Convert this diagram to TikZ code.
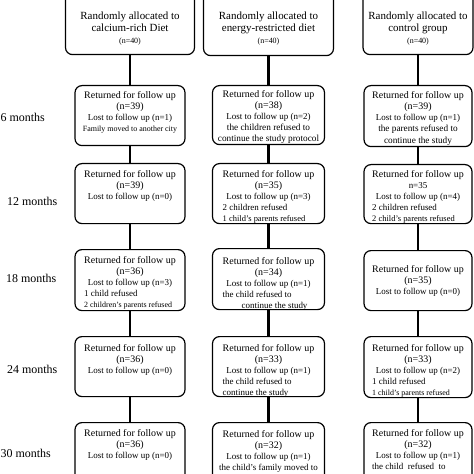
\documentclass[tikz,border=0pt]{standalone}
\usepackage{fontspec}
\setmainfont{Liberation Serif}
\newcommand\fs[2]{{\fontsize{#1}{11.2}\selectfont #2}}
\newcommand\lf[1]{\multicolumn{1}{@{}l@{}}{#1}}
\newcommand\RF{\fs{10}{Returned for follow up}}
\begin{document}
\begin{tikzpicture}[x=1bp,y=-1bp,
  box/.style={draw, rounded corners=7bp, line width=1.2bp, inner sep=0pt, anchor=north},
  txt/.style={inner sep=0pt, anchor=north, font=\fontsize{9}{11.2}\selectfont},
  toptxt/.style={inner sep=0pt, anchor=north, font=\fontsize{11}{12}\selectfont},
  lab/.style={inner sep=0pt, anchor=west, font=\fontsize{12}{12}\selectfont},
  link/.style={line width=2.6bp}]
\useasboundingbox (0,0) rectangle (474,474);
% top boxes
\node[box, minimum width=129bp, minimum height=64bp] (a1) at (130,-10) {};
\node[box, minimum width=130bp, minimum height=65bp] (a2) at (268.5,-10) {};
\node[box, minimum width=110bp, minimum height=64bp] (a3) at (418,-10) {};
\node[toptxt] (ta1) at (130,11) {\begin{tabular}{@{}c@{}}Randomly allocated to\\ calcium-rich Diet\\ \fs{8}{(n=40)}\end{tabular}};
\node[toptxt] (ta2) at (268.5,11) {\begin{tabular}{@{}c@{}}Randomly allocated to\\ energy-restricted diet\\ \fs{8}{(n=40)}\end{tabular}};
\node[toptxt] (ta3) at (418,11) {\begin{tabular}{@{}c@{}}Randomly allocated to\\ control group\\ \fs{8}{(n=40)}\end{tabular}};
% row 1
\node[box, minimum width=110bp, minimum height=60bp] (b11) at (130,85) {};
\node[box, minimum width=112bp, minimum height=59bp] (b12) at (268.5,85) {};
\node[box, minimum width=108bp, minimum height=61bp] (b13) at (418,85) {};
\node[txt] (t11) at (130,90) {\begin{tabular}{@{}c@{}}\RF\\ \fs{10}{(n=39)}\\ Lost to follow up (n=1)\\ \fs{8}{Family moved to another city}\end{tabular}};
\node[txt] (t12) at (268.5,89) {\begin{tabular}{@{}c@{}}\RF\\ \fs{10}{(n=38)}\\ Lost to follow up (n=2)\\ \fs{9.3}{the children refused to}\\ \fs{9.3}{continue the study protocol}\end{tabular}};
\node[txt] (t13) at (418,90.5) {\begin{tabular}{@{}c@{}}\RF\\ \fs{10}{(n=39)}\\ Lost to follow up (n=1)\\ \fs{9.3}{the parents refused to}\\ \fs{9.3}{continue the study}\end{tabular}};
% row 2
\node[box, minimum width=110bp, minimum height=60bp] (b21) at (130,163) {};
\node[box, minimum width=112bp, minimum height=60bp] (b22) at (268.5,163) {};
\node[box, minimum width=108bp, minimum height=59bp] (b23) at (418,164) {};
\node[txt] (t21) at (130,169) {\begin{tabular}{@{}c@{}}\RF\\ \fs{10}{(n=39)}\\ Lost to follow up (n=0)\end{tabular}};
\node[txt] (t22) at (268.5,169) {\begin{tabular}{@{}c@{}}\RF\\ \fs{10}{(n=35)}\\ Lost to follow up (n=3)\\ \lf{2 children refused}\\ \lf{\fs{8.5}{1 child's parents refused}}\end{tabular}};
\node[txt] (t23) at (418,169) {\begin{tabular}{@{}c@{}}\RF\\ \fs{9}{n=35}\\ Lost to follow up (n=4)\\ \lf{2 children refused}\\ \lf{\fs{8.5}{2 child's parents refused}}\end{tabular}};
% row 3
\node[box, minimum width=110bp, minimum height=61bp] (b31) at (130,249) {};
\node[box, minimum width=112bp, minimum height=61bp] (b32) at (268.5,248) {};
\node[box, minimum width=108bp, minimum height=60bp] (b33) at (418,250) {};
\node[txt] (t31) at (130,255) {\begin{tabular}{@{}c@{}}\RF\\ \fs{10}{(n=36)}\\ Lost to follow up (n=3)\\ \lf{1 child refused}\\ \lf{\fs{8}{2 children's parents refused}}\end{tabular}};
\node[txt] (t32) at (268.5,256) {\begin{tabular}{@{}c@{}}\RF\\ \fs{10}{(n=34)}\\ Lost to follow up (n=1)\\ \lf{the child refused to}\\ \lf{\hspace{19bp}continue the study}\end{tabular}};
\node[txt] (t33) at (418,264) {\begin{tabular}{@{}c@{}}\RF\\ \fs{10}{(n=35)}\\ Lost to follow up (n=0)\end{tabular}};
% row 4
\node[box, minimum width=110bp, minimum height=60bp] (b41) at (130,336) {};
\node[box, minimum width=112bp, minimum height=60bp] (b42) at (268.5,336) {};
\node[box, minimum width=108bp, minimum height=61bp] (b43) at (418,336) {};
\node[txt] (t41) at (130,343) {\begin{tabular}{@{}c@{}}\RF\\ \fs{10}{(n=36)}\\ Lost to follow up (n=0)\end{tabular}};
\node[txt] (t42) at (268.5,343) {\begin{tabular}{@{}c@{}}\RF\\ \fs{10}{(n=33)}\\ Lost to follow up (n=1)\\ \lf{the child refused to}\\ \lf{continue the study}\end{tabular}};
\node[txt] (t43) at (418,343) {\begin{tabular}{@{}c@{}}\RF\\ \fs{10}{(n=33)}\\ Lost to follow up (n=2)\\ \lf{1 child refused}\\ \lf{\fs{8}{1 child's parents refused}}\end{tabular}};
% row 5
\node[box, minimum width=110bp, minimum height=70bp] (b51) at (130,422) {};
\node[box, minimum width=112bp, minimum height=70bp] (b52) at (268.5,422) {};
\node[box, minimum width=108bp, minimum height=70bp] (b53) at (418,422) {};
\node[txt] (t51) at (130,428) {\begin{tabular}{@{}c@{}}\RF\\ \fs{10}{(n=36)}\\ Lost to follow up (n=0)\end{tabular}};
\node[txt] (t52) at (268.5,429) {\begin{tabular}{@{}c@{}}\RF\\ \fs{10}{(n=32)}\\ Lost to follow up (n=1)\\ the child's family moved to\end{tabular}};
\node[txt] (t53) at (418,428) {\begin{tabular}{@{}c@{}}\RF\\ \fs{10}{(n=32)}\\ Lost to follow up (n=1)\\ \lf{the child\ \ refused\ \ to}\end{tabular}};
% connectors
\foreach \c in {1,2,3}{
  \draw[link] (a\c.south) -- (b1\c.north);
  \draw[link] (b1\c.south) -- (b2\c.north);
  \draw[link] (b2\c.south) -- (b3\c.north);
  \draw[link] (b3\c.south) -- (b4\c.north);
  \draw[link] (b4\c.south) -- (b5\c.north);
}
% time labels
\node[lab] (m6) at (0.5,117) {6 months};
\node[lab] (m12) at (7,201) {12 months};
\node[lab] (m18) at (6,278) {18 months};
\node[lab] (m24) at (7,369) {24 months};
\node[lab] (m30) at (0.5,453) {30 months};
\end{tikzpicture}
\end{document}
